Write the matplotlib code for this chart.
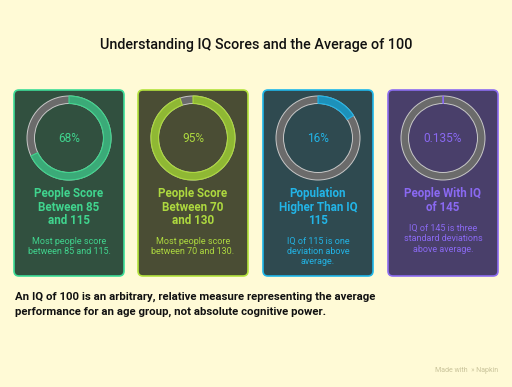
import matplotlib
matplotlib.use("Agg")
import matplotlib.pyplot as plt
from matplotlib.patches import FancyBboxPatch, Wedge

plt.rcParams['font.family'] = ['Roboto', 'DejaVu Sans']

# Data
percents = [68, 95, 16, 0.135]
pct_labels = ["68%", "95%", "16%", "0.135%"]
titles = ["People Score\nBetween 85\nand 115",
          "People Score\nBetween 70\nand 130",
          "Population\nHigher Than IQ\n115",
          "People With IQ\nof 145"]
descs = ["Most people score\nbetween 85 and 115.",
         "Most people score\nbetween 70 and 130.",
         "IQ of 115 is one\ndeviation above\naverage.",
         "IQ of 145 is three\nstandard deviations\nabove average."]
main_title = "Understanding IQ Scores and the Average of 100"
footnote = ["An IQ of 100 is an arbitrary, relative measure representing the average",
            "performance for an age group, not absolute cognitive power."]

# Styles
bg = "#FFFAD6"
card_bg = ["#31503F", "#4A4D34", "#2F4A50", "#493F6A"]
card_edge = ["#3DDC97", "#B4E33D", "#1FB7EA", "#8C6CF0"]
text_col = ["#40D48E", "#ADD83F", "#22B4E6", "#8A69F2"]
ring_col = ["#3BAA78", "#8FB834", "#1D91BA", "#7D5CE0"]

W, H = 512, 387
fig = plt.figure(figsize=(W / 100, H / 100), dpi=100)
fig.patch.set_facecolor(bg)
ax = fig.add_axes([0, 0, 1, 1])
ax.set_xlim(0, W)
ax.set_ylim(H, 0)
ax.axis("off")
ax.set_facecolor(bg)

ax.text(256, 45, main_title, ha="center", va="center", fontsize=10.4,
        fontweight="medium", color="#111111")

card_x = [14, 138, 263, 388]
card_w = 110
card_y0, card_y1 = 90, 276
ring_r, ring_w = 42, 7.5

for i, p in enumerate(percents):
    x0 = card_x[i]
    ax.add_patch(FancyBboxPatch((x0, card_y0), card_w, card_y1 - card_y0,
                                boxstyle="round,pad=0,rounding_size=5",
                                facecolor=card_bg[i], edgecolor=card_edge[i],
                                linewidth=1.2))
    cx, cy = x0 + card_w / 2, 138
    ax.add_patch(Wedge((cx, cy), ring_r, 0, 360, width=ring_w,
                       facecolor="#6B6B6B", edgecolor="#C8C8C8", linewidth=0.7))
    ax.add_patch(Wedge((cx, cy), ring_r, -90, -90 + 360 * p / 100, width=ring_w,
                       facecolor=ring_col[i], edgecolor=text_col[i], linewidth=0.8))
    ax.text(cx, cy, pct_labels[i], ha="center", va="center", fontsize=8.6,
            color=text_col[i])
    nlines = titles[i].count("\n") + 1
    for k, line in enumerate(titles[i].split("\n")):
        ax.text(cx, 194 + 13.5 * k, line, ha="center", va="center", fontsize=8.4,
                fontweight="bold", color=text_col[i])
    dy0 = 228.5 if nlines == 2 else 241
    for k, line in enumerate(descs[i].split("\n")):
        ax.text(cx, dy0 + 10.3 * k, line, ha="center", va="center", fontsize=6.5,
                color=text_col[i])

for k, line in enumerate(footnote):
    ax.text(15, 297 + 15 * k, line, ha="left", va="center", fontsize=8.2,
            fontweight="bold", color="#111111")

ax.text(498, 371, "Made with  \u00bb Napkin", ha="right", va="center", fontsize=5,
        color="#C9C39A")

fig.savefig("out.png", dpi=100, facecolor=bg)
